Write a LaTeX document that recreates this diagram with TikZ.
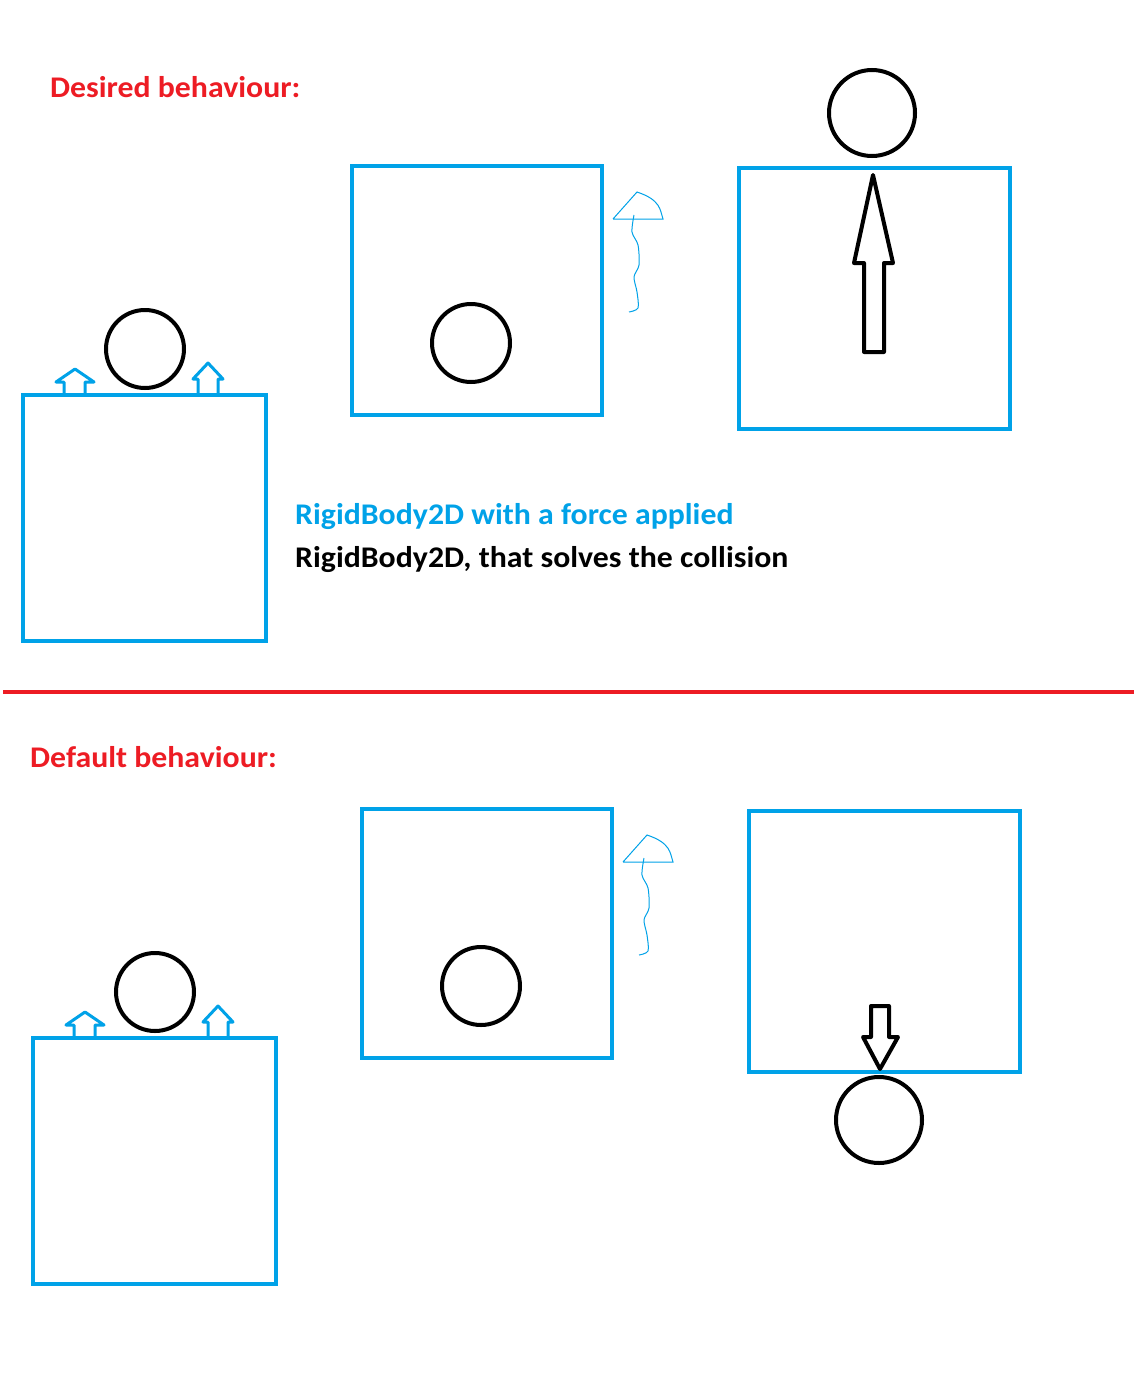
\documentclass[tikz,border=0pt]{standalone}
\usepackage{fontspec}
\setmainfont{Carlito}[FakeStretch=1.06]
\usepackage{xcolor}
\definecolor{paintblue}{HTML}{00A2E8}
\definecolor{paintred}{HTML}{ED1C24}

\begin{document}
\begin{tikzpicture}[
    x=1pt, y=-1pt,
    body/.style={draw=paintblue, line width=4pt},
    ball/.style={circle, draw, line width=4pt, minimum size=78pt, inner sep=0pt},
    bigball/.style={ball, minimum size=86pt},
    push/.style={draw=paintblue, line width=3pt, line join=round},
    force/.style={draw, line width=4pt, line join=round},
    scribble/.style={draw=paintblue, line width=1pt},
    heading/.style={anchor=base west, inner sep=0pt, text=paintred, font=\fontsize{30}{36}\bfseries},
    caption/.style={anchor=base west, inner sep=0pt, font=\fontsize{30}{36}\bfseries},
]
    \useasboundingbox[fill=white] (0,0) rectangle (1134,1400);

    % Desired behaviour
    \node[heading] (desired) at (50,97) {Desired behaviour:};

    \draw[body] (23,395) rectangle (266,641);
    \node[ball] (ballA) at (145,349) {};
    \draw[push] (64,394) -- (64,382) -- (56,382) -- (75,369) -- (94,382) -- (85,382) -- (85,394);
    \draw[push] (198,394) -- (198,379) -- (193,379) -- (208,363) -- (223,379) -- (218,379) -- (218,394);

    \draw[body] (352,166) rectangle (602,415);
    \node[ball] (ballB) at (471,343) {};
    \draw[scribble] (613,219) -- (663,219) .. controls (660,210) and (661,200) .. (637,192) -- (613,219);
    \draw[scribble] plot[smooth] coordinates {(634,215) (632,232) (638,245) (639,265) (634,277) (637,292) (638,308) (629,312)};

    \draw[body] (739,168) rectangle (1010,429);
    \node[bigball] (ballC) at (872,113) {};
    \draw[force] (873,175) -- (893,263) -- (884,263) -- (884,352) -- (864,352) -- (864,263) -- (854,263) -- cycle;

    \node[caption, text=paintblue] (forced) at (295,524) {RigidBody2D with a force applied};
    \node[caption] (solver) at (295,567) {RigidBody2D, that solves the collision};

    % separator
    \draw[paintred, line width=4pt] (3,692) -- (1134,692);

    % Default behaviour
    \node[heading] (default) at (30,767) {Default behaviour:};

    \draw[body] (33,1038) rectangle (276,1284);
    \node[ball] (ballD) at (155,992) {};
    \draw[push] (74,1037) -- (74,1025) -- (66,1025) -- (85,1012) -- (104,1025) -- (95,1025) -- (95,1037);
    \draw[push] (208,1037) -- (208,1022) -- (203,1022) -- (218,1006) -- (233,1022) -- (228,1022) -- (228,1037);

    \draw[body] (362,809) rectangle (612,1058);
    \node[ball] (ballE) at (481,986) {};
    \draw[scribble] (623,862) -- (673,862) .. controls (670,853) and (671,843) .. (647,835) -- (623,862);
    \draw[scribble] plot[smooth] coordinates {(644,858) (642,875) (648,888) (649,908) (644,920) (647,935) (648,951) (639,955)};

    \draw[body] (749,811) rectangle (1020,1072);
    \node[bigball] (ballF) at (879,1120) {};
    \draw[force] (880,1069) -- (898,1037) -- (889,1037) -- (889,1006) -- (871,1006) -- (871,1037) -- (863,1037) -- cycle;
\end{tikzpicture}
\end{document}
